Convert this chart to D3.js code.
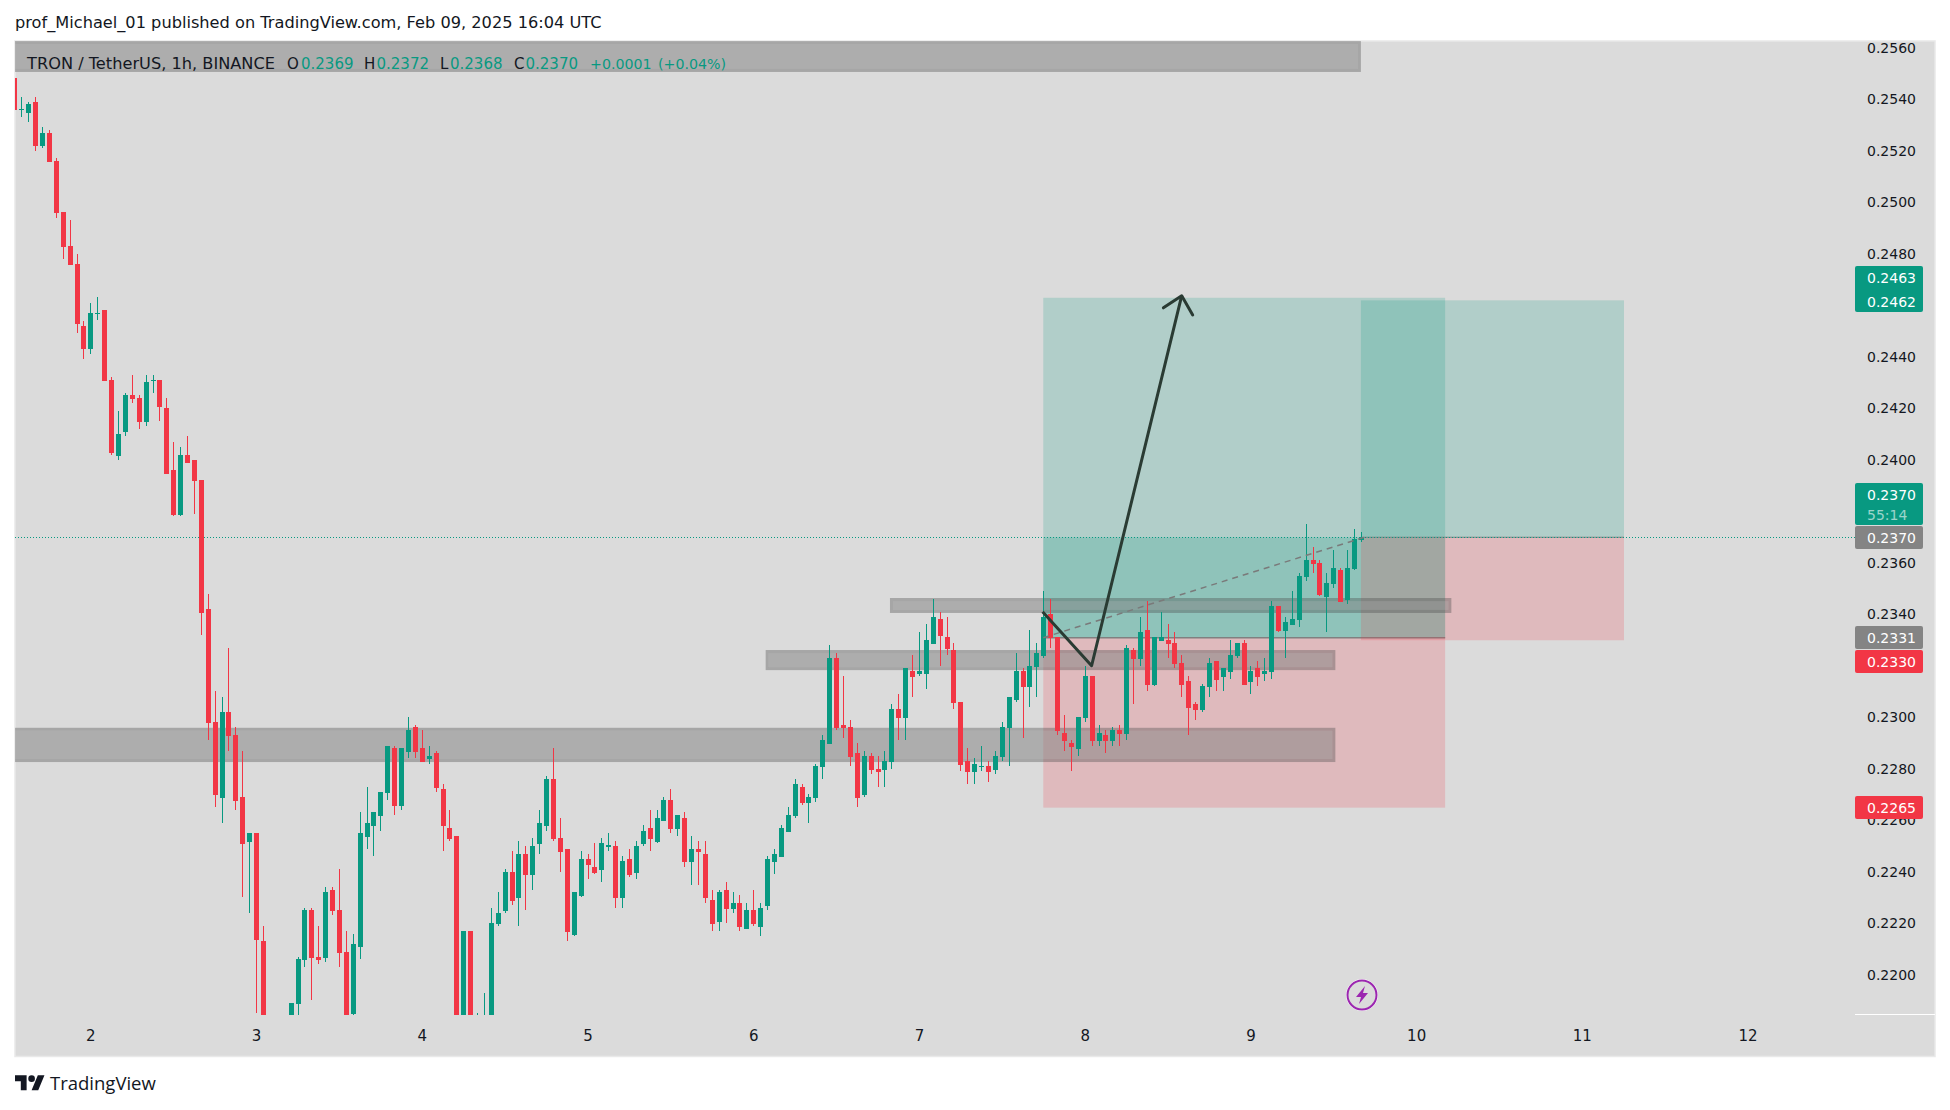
<!DOCTYPE html>
<html lang="en">
	<head>
		<meta charset="utf-8">
		<title>TRON / TetherUS 1h</title>
		<script type="text/javascript" src="https://cdnjs.cloudflare.com/ajax/libs/d3/7.8.5/d3.min.js"></script>
		<style type="text/css">
			html, body { margin: 0; padding: 0; background: #ffffff; }
			svg { display: block; }
			text { font-family: "DejaVu Sans", sans-serif; fill: #131722; }
			.axis path { display: none; }
			.axis text { font-family: "DejaVu Sans", sans-serif; font-size: 14px; fill: #131722; }
			.days text { font-size: 15px; }
		</style>
	</head>
	<body>
		<script type="text/javascript">
			//Hourly candles, one entry per bar
			var opens = [
				0.25483,0.25358,0.25348,0.25390,0.25219,0.25270,0.25161,0.24963,0.24831,0.24761,
				0.24520,0.24431,0.24567,0.24583,0.24311,0.24016,0.24109,0.24252,0.24241,0.24148,
				0.24307,0.24311,0.24202,0.23961,0.23786,0.24019,0.24000,0.23922,0.23421,0.22982,
				0.22687,0.23021,0.22932,0.22691,0.22516,0.22551,0.22132,0.21747,0.21700,0.21730,
				0.21780,0.21887,0.22058,0.22252,0.22070,0.22066,0.22330,0.22252,0.22089,0.21848,
				0.22109,0.22536,0.22579,0.22617,0.22707,0.22882,0.22656,0.22866,0.22963,0.22882,
				0.22839,0.22862,0.22722,0.22571,0.22540,0.21806,0.22171,0.21760,0.21790,0.21820,
				0.22198,0.22249,0.22400,0.22299,0.22470,0.22388,0.22509,0.22579,0.22761,0.22532,
				0.22489,0.22155,0.22307,0.22450,0.22419,0.22408,0.22497,0.22501,0.22299,0.22450,
				0.22396,0.22509,0.22571,0.22516,0.22598,0.22680,0.22567,0.22610,0.22439,0.22489,
				0.22470,0.22291,0.22206,0.22330,0.22256,0.22280,0.22179,0.22252,0.22186,0.22268,
				0.22439,0.22458,0.22555,0.22617,0.22730,0.22668,0.22687,0.22808,0.22897,0.23231,
				0.22971,0.22963,0.22862,0.22699,0.22850,0.22800,0.22796,0.22827,0.23033,0.22998,
				0.23181,0.23169,0.23169,0.23286,0.23383,0.23313,0.23262,0.23060,0.22831,0.22788,
				0.22808,0.22812,0.22796,0.22846,0.22959,0.23068,0.23181,0.23118,0.23196,0.23239,
				0.23402,0.23313,0.22940,0.22901,0.22878,0.22998,0.23161,0.22909,0.22932,0.22909,
				0.22951,0.22936,0.23262,0.23227,0.23340,0.23126,0.23297,0.23301,0.23289,0.23212,
				0.23142,0.23052,0.23029,0.23118,0.23219,0.23157,0.23177,0.23239,0.23289,0.23138,
				0.23192,0.23169,0.23177,0.23433,0.23336,0.23359,0.23379,0.23546,0.23612,0.23600,
				0.23468,0.23518,0.23573,0.23456,0.23577,0.23690
			];
			var highs = [
				0.25483,0.25410,0.25390,0.25410,0.25293,0.25282,0.25173,0.24963,0.24932,0.24800,
				0.24540,0.24610,0.24633,0.24583,0.24322,0.24190,0.24260,0.24330,0.24252,0.24330,
				0.24330,0.24311,0.24241,0.24070,0.24050,0.24093,0.24000,0.23922,0.23480,0.23103,
				0.23080,0.23270,0.22963,0.22870,0.22551,0.22551,0.22190,0.21790,0.21760,0.21800,
				0.21891,0.22070,0.22260,0.22260,0.22190,0.22342,0.22342,0.22412,0.22171,0.22159,
				0.22633,0.22730,0.22633,0.22711,0.22889,0.22889,0.22882,0.23002,0.22971,0.22951,
				0.22889,0.22870,0.22742,0.22641,0.22540,0.22171,0.22171,0.21852,0.21930,0.22260,
				0.22322,0.22412,0.22482,0.22520,0.22501,0.22532,0.22641,0.22773,0.22882,0.22610,
				0.22489,0.22322,0.22482,0.22470,0.22513,0.22532,0.22551,0.22520,0.22462,0.22489,
				0.22520,0.22583,0.22641,0.22641,0.22691,0.22722,0.22621,0.22633,0.22540,0.22520,
				0.22520,0.22330,0.22330,0.22361,0.22322,0.22311,0.22280,0.22330,0.22280,0.22462,
				0.22489,0.22583,0.22652,0.22761,0.22742,0.22703,0.22819,0.22932,0.23281,0.23251,
				0.23161,0.22990,0.22901,0.22870,0.22862,0.22850,0.22870,0.23052,0.23091,0.23192,
				0.23243,0.23332,0.23363,0.23460,0.23410,0.23390,0.23289,0.23060,0.22882,0.22843,
				0.22889,0.22831,0.22870,0.22982,0.23080,0.23251,0.23192,0.23340,0.23289,0.23491,
				0.23460,0.23313,0.23010,0.22912,0.23002,0.23200,0.23161,0.22971,0.22951,0.22963,
				0.22971,0.23281,0.23270,0.23390,0.23453,0.23313,0.23410,0.23363,0.23332,0.23243,
				0.23161,0.23060,0.23130,0.23231,0.23219,0.23192,0.23301,0.23289,0.23301,0.23200,
				0.23219,0.23231,0.23453,0.23433,0.23390,0.23491,0.23561,0.23751,0.23662,0.23612,
				0.23561,0.23650,0.23580,0.23650,0.23732,0.23720
			];
			var lows = [
				0.25359,0.25332,0.25313,0.25200,0.25212,0.25157,0.24940,0.24781,0.24757,0.24493,
				0.24392,0.24412,0.24544,0.24307,0.24019,0.24000,0.24093,0.24221,0.24120,0.24132,
				0.24260,0.24151,0.23946,0.23783,0.23783,0.23988,0.23790,0.23320,0.22912,0.22652,
				0.22590,0.22870,0.22641,0.22303,0.22241,0.21852,0.21720,0.21680,0.21650,0.21690,
				0.21760,0.21825,0.22031,0.21903,0.22043,0.22050,0.22233,0.22031,0.21790,0.21841,
				0.22062,0.22489,0.22462,0.22559,0.22680,0.22621,0.22641,0.22843,0.22843,0.22827,
				0.22819,0.22711,0.22482,0.22520,0.21780,0.21780,0.21760,0.21740,0.21760,0.21790,
				0.22190,0.22241,0.22272,0.22190,0.22252,0.22330,0.22470,0.22559,0.22520,0.22400,
				0.22132,0.22151,0.22303,0.22373,0.22392,0.22361,0.22482,0.22260,0.22260,0.22381,
				0.22373,0.22501,0.22482,0.22513,0.22598,0.22551,0.22540,0.22419,0.22350,0.22350,
				0.22280,0.22171,0.22171,0.22202,0.22241,0.22171,0.22179,0.22190,0.22151,0.22252,
				0.22392,0.22458,0.22555,0.22610,0.22660,0.22590,0.22672,0.22761,0.22897,0.22951,
				0.22920,0.22812,0.22652,0.22691,0.22781,0.22730,0.22730,0.22800,0.22912,0.22912,
				0.23080,0.23161,0.23111,0.23286,0.23200,0.23243,0.23033,0.22792,0.22742,0.22742,
				0.22792,0.22750,0.22781,0.22831,0.22812,0.23060,0.22920,0.23041,0.23080,0.23231,
				0.23270,0.22932,0.22870,0.22792,0.22850,0.22982,0.22889,0.22889,0.22862,0.22889,
				0.22889,0.22912,0.23052,0.23200,0.23103,0.23122,0.23297,0.23231,0.23192,0.23080,
				0.22932,0.22990,0.23021,0.23080,0.23103,0.23103,0.23149,0.23231,0.23126,0.23091,
				0.23122,0.23142,0.23149,0.23332,0.23231,0.23359,0.23352,0.23530,0.23561,0.23472,
				0.23332,0.23503,0.23449,0.23441,0.23573,0.23680
			];
			var closes = [
				0.25359,0.25363,0.25383,0.25219,0.25270,0.25157,0.24959,0.24827,0.24757,0.24528,
				0.24431,0.24571,0.24571,0.24307,0.24027,0.24101,0.24252,0.24237,0.24148,0.24303,
				0.24311,0.24206,0.23946,0.23786,0.24019,0.23988,0.23918,0.23406,0.22979,0.22699,
				0.23021,0.22928,0.22676,0.22509,0.22551,0.22136,0.21747,0.21700,0.21730,0.21780,
				0.21891,0.22062,0.22252,0.22066,0.22058,0.22322,0.22249,0.22085,0.21806,0.22120,
				0.22551,0.22590,0.22633,0.22711,0.22889,0.22656,0.22882,0.22951,0.22866,0.22827,
				0.22850,0.22726,0.22579,0.22528,0.21806,0.22171,0.21790,0.21800,0.21830,0.22202,
				0.22241,0.22400,0.22287,0.22470,0.22388,0.22501,0.22590,0.22761,0.22528,0.22478,
				0.22167,0.22322,0.22450,0.22427,0.22396,0.22513,0.22505,0.22299,0.22443,0.22388,
				0.22501,0.22559,0.22528,0.22610,0.22680,0.22567,0.22621,0.22439,0.22489,0.22478,
				0.22299,0.22198,0.22322,0.22256,0.22280,0.22186,0.22252,0.22198,0.22260,0.22450,
				0.22470,0.22571,0.22621,0.22742,0.22668,0.22691,0.22812,0.22912,0.23231,0.22959,
				0.22959,0.22846,0.22687,0.22850,0.22796,0.22788,0.22831,0.23033,0.22998,0.23192,
				0.23157,0.23181,0.23301,0.23390,0.23317,0.23266,0.23056,0.22816,0.22788,0.22819,
				0.22812,0.22788,0.22850,0.22963,0.23080,0.23181,0.23118,0.23200,0.23251,0.23390,
				0.23309,0.22948,0.22909,0.22885,0.23002,0.23161,0.22909,0.22940,0.22909,0.22951,
				0.22936,0.23270,0.23227,0.23332,0.23126,0.23313,0.23313,0.23286,0.23208,0.23126,
				0.23037,0.23029,0.23122,0.23212,0.23146,0.23192,0.23243,0.23289,0.23126,0.23181,
				0.23157,0.23181,0.23433,0.23336,0.23371,0.23383,0.23550,0.23612,0.23596,0.23476,
				0.23522,0.23580,0.23449,0.23580,0.23693,0.23700
			];

			//Axis ticks (0.2460, 0.2380 and 0.2320 sit behind the price labels)
			var priceTicks = [0.2560,0.2540,0.2520,0.2500,0.2480,0.2440,0.2420,0.2400,0.2360,0.2340,0.2300,0.2280,0.2260,0.2240,0.2220,0.2200];
			var dayBars = [11,35,59,83,107,131,155,179,203,227,251];
			var dayLabels = ["2","3","4","5","6","7","8","9","10","11","12"];

			//Grey zones, bar range and price range
			var zoneFrom = [-3,108.8,126.8,-3];
			var zoneTo = [195,191.3,208.1,191.3];
			var zoneHigh = [0.25627,0.23262,0.23464,0.2296];
			var zoneLow = [0.25507,0.23184,0.23406,0.22827];

			//Long position tools
			var toolFrom = [149,195];
			var toolTo = [207.2,233.1];
			var toolTarget = [0.2463,0.2462];
			var toolEntry = [0.2331,0.2370];
			var toolStop = [0.2265,0.2330];

			//Hand drawn arrow
			var arrowBars = [148.9,156,169.05];
			var arrowPrices = [0.23411,0.23201,0.24638];
			var headBars = [166.4,169.05,170.64];
			var headPrices = [0.24591,0.24638,0.24563];

			//Legend line
			var legendParts = ["TRON / TetherUS, 1h, BINANCE","O","0.2369","H","0.2372","L","0.2368","C","0.2370","+0.0001","(+0.04%)"];

			var w = 1950;
			var h = 1110;
			var teal = "#089981";
			var red = "#f23645";
			var bg = "#dbdbdb";

			var xScale = d3.scaleLinear().domain([0,195]).range([14.4,1360.9]);
			var yScale = d3.scaleLinear().domain([0.2560,0.2200]).range([48,975]);

			var svg = d3.select("body")
						.append("svg")
						.attr("width", w)
						.attr("height", h);

			svg.append("defs").append("clipPath")
				.attr("id", "pane")
				.append("rect")
				.attr("x", 15).attr("y", 41)
				.attr("width", 1840).attr("height", 974);

			//Frame
			svg.append("rect")
				.attr("x", 15).attr("y", 41)
				.attr("width", 1920).attr("height", 1015.5)
				.attr("fill", bg)
				.attr("stroke", "#e9e9e9")
				.attr("stroke-width", 1.5);

			svg.append("text")
				.attr("x", 15).attr("y", 28)
				.attr("font-size", "16.2px")
				.text("prof_Michael_01 published on TradingView.com, Feb 09, 2025 16:04 UTC");

			var pane = svg.append("g").attr("clip-path", "url(#pane)");

			//Position tools
			var lastClose = closes[closes.length - 1];
			var tools = pane.selectAll("g.tool")
				.data(d3.range(toolFrom.length))
				.enter()
				.append("g")
				.attr("class", "tool");
			function toolBox(sel, hi, lo, color) {
				sel.append("rect")
					.attr("x", function(d) { return xScale(toolFrom[d]); })
					.attr("width", function(d) { return xScale(toolTo[d]) - xScale(toolFrom[d]); })
					.attr("y", function(d) { return yScale(hi(d)); })
					.attr("height", function(d) { return yScale(lo(d)) - yScale(hi(d)); })
					.attr("fill", color)
					.attr("fill-opacity", 0.2);
			}
			toolBox(tools, function(d) { return toolTarget[d]; }, function(d) { return toolEntry[d]; }, teal);
			toolBox(tools, function(d) { return toolEntry[d]; }, function(d) { return toolStop[d]; }, red);
			//Running profit between entry and last close
			toolBox(tools, function(d) { return lastClose; }, function(d) { return toolEntry[d]; }, teal);
			tools.append("line")
				.attr("x1", function(d) { return xScale(toolFrom[d]); })
				.attr("x2", function(d) { return xScale(toolTo[d]); })
				.attr("y1", function(d) { return yScale(toolEntry[d]); })
				.attr("y2", function(d) { return yScale(toolEntry[d]); })
				.attr("stroke", "#808080")
				.attr("stroke-width", function(d) { return d == 0 ? 1.5 : 1; });

			//Grey zones
			var zoneInset = 1.5;
			var zones = pane.selectAll("g.zone")
				.data(d3.range(zoneHigh.length))
				.enter()
				.append("g")
				.attr("class", "zone");
			zones.append("rect")
				.attr("x", function(d) { return xScale(zoneFrom[d]) + 3; })
				.attr("width", function(d) { return xScale(zoneTo[d]) - xScale(zoneFrom[d]) - 6; })
				.attr("y", function(d) { return yScale(zoneHigh[d]) + 3; })
				.attr("height", function(d) { return yScale(zoneLow[d]) - yScale(zoneHigh[d]) - 6; })
				.attr("fill", "#808080")
				.attr("fill-opacity", 0.5);
			zones.append("rect")
				.attr("x", function(d) { return xScale(zoneFrom[d]) + zoneInset; })
				.attr("width", function(d) { return xScale(zoneTo[d]) - xScale(zoneFrom[d]) - 2 * zoneInset; })
				.attr("y", function(d) { return yScale(zoneHigh[d]) + zoneInset; })
				.attr("height", function(d) { return yScale(zoneLow[d]) - yScale(zoneHigh[d]) - 2 * zoneInset; })
				.attr("fill", "none")
				.attr("stroke", "#505050")
				.attr("stroke-opacity", 0.38)
				.attr("stroke-width", 3);

			//Last price line
			pane.append("line")
				.attr("x1", 15).attr("x2", 1855)
				.attr("y1", yScale(lastClose)).attr("y2", yScale(lastClose))
				.attr("stroke", teal)
				.attr("stroke-dasharray", "1,2")
				.attr("shape-rendering", "crispEdges");

			//Candles
			var candles = pane.selectAll("g.candle")
				.data(d3.range(opens.length))
				.enter()
				.append("g")
				.attr("class", "candle")
				.attr("fill", function(d) { return closes[d] >= opens[d] ? teal : red; })
				.attr("shape-rendering", "crispEdges");
			candles.append("rect")
				.attr("x", function(d) { return Math.round(xScale(d)) - 0.5; })
				.attr("width", 1)
				.attr("y", function(d) { return yScale(highs[d]); })
				.attr("height", function(d) { return yScale(lows[d]) - yScale(highs[d]); });
			candles.append("rect")
				.attr("x", function(d) { return Math.round(xScale(d)) - 2.5; })
				.attr("width", 5)
				.attr("y", function(d) { return yScale(Math.max(opens[d], closes[d])); })
				.attr("height", function(d) { return Math.max(1, Math.abs(yScale(opens[d]) - yScale(closes[d]))); });

			//Dashed line from entry to last bar
			pane.append("line")
				.attr("x1", xScale(toolFrom[0])).attr("y1", yScale(toolEntry[0]))
				.attr("x2", xScale(195.5)).attr("y2", yScale(lastClose))
				.attr("stroke", "#7a7a7a")
				.attr("stroke-width", 1.5)
				.attr("stroke-dasharray", "6,5");

			//Arrow
			var arrowLine = d3.line()
				.x(function(d) { return xScale(d[0]); })
				.y(function(d) { return yScale(d[1]); });
			pane.append("path")
				.attr("d", arrowLine(d3.zip(arrowBars, arrowPrices)))
				.attr("fill", "none")
				.attr("stroke", "#2a3b33")
				.attr("stroke-width", 3)
				.attr("stroke-linejoin", "round");
			pane.append("path")
				.attr("d", arrowLine(d3.zip(headBars, headPrices)))
				.attr("fill", "none")
				.attr("stroke", "#2a3b33")
				.attr("stroke-width", 3)
				.attr("stroke-linecap", "round")
				.attr("stroke-linejoin", "round");

			//Legend
			var legendX = [27,287,301,364,376.5,440,450,514,525.5,590,658];
			svg.selectAll("text.legend")
				.data(legendParts)
				.enter()
				.append("text")
				.attr("class", "legend")
				.attr("x", function(d, i) { return legendX[i]; })
				.attr("y", 69)
				.attr("font-size", function(d, i) { return i == 0 ? "16.2px" : (i > 8 ? "14.2px" : "15px"); })
				.style("fill", function(d, i) { return (i == 0 || i == 1 || i == 3 || i == 5 || i == 7) ? "#131722" : teal; })
				.text(function(d) { return d; });

			//Axes
			var yAxis = d3.axisRight(yScale)
				.tickValues(priceTicks)
				.tickSize(0)
				.tickPadding(12)
				.tickFormat(d3.format(".4f"));
			svg.append("g")
				.attr("class", "axis")
				.attr("transform", "translate(1855,0)")
				.call(yAxis);

			var xAxis = d3.axisBottom(xScale)
				.tickValues(dayBars)
				.tickSize(0)
				.tickPadding(15)
				.tickFormat(function(d, i) { return dayLabels[i]; });
			svg.append("g")
				.attr("class", "axis days")
				.attr("transform", "translate(0,1015)")
				.call(xAxis);

			svg.append("line")
				.attr("x1", 1855).attr("x2", 1935)
				.attr("y1", 1014.5).attr("y2", 1014.5)
				.attr("stroke", "#ffffff");

			//Price labels on the scale
			var boxTop = [266,483,526,626,650,796];
			var boxBottom = [312,525,549,649,673,819];
			var boxColor = [teal,teal,"#848484","#848484",red,red];
			var labelText = ["0.2463","0.2462","0.2370","55:14","0.2370","0.2331","0.2330","0.2265"];
			var labelY = [278,302,495,515,538,638,662,808];
			var labelOpacity = [1,1,1,0.6,1,1,1,1];
			svg.selectAll("rect.box")
				.data(boxTop)
				.enter()
				.append("rect")
				.attr("class", "box")
				.attr("x", 1855)
				.attr("width", 68)
				.attr("y", function(d) { return d; })
				.attr("height", function(d, i) { return boxBottom[i] - d; })
				.attr("rx", 2)
				.attr("fill", function(d, i) { return boxColor[i]; });
			svg.selectAll("text.boxlabel")
				.data(labelText)
				.enter()
				.append("text")
				.attr("class", "boxlabel")
				.attr("x", 1867)
				.attr("y", function(d, i) { return labelY[i]; })
				.attr("dy", "0.36em")
				.attr("font-size", "14px")
				.style("fill", "#ffffff")
				.style("fill-opacity", function(d, i) { return labelOpacity[i]; })
				.text(function(d) { return d; });

			//Lightning badge
			var badge = svg.append("g").attr("transform", "translate(1362,995)");
			badge.append("circle").attr("r", 16).attr("fill", "#ffffff");
			badge.append("circle").attr("r", 14.5).attr("fill", bg).attr("stroke", "#9c27b0").attr("stroke-width", 2);
			badge.append("path").attr("d", "M3,-9 L-6,2 H-1 L-3,9 L6,-2 H1 Z").attr("fill", "#9c27b0");

			//Logo
			var logo = svg.append("g").attr("transform", "translate(15,1072) scale(0.83)").attr("fill", "#131722");
			logo.append("path").attr("d", "M14 22H7V11H0V4h14v18zM28 22h-8l7.5-18h8L28 22z");
			logo.append("circle").attr("cx", 20).attr("cy", 8).attr("r", 4);
			svg.append("text")
				.attr("x", 50).attr("y", 1090)
				.attr("font-size", "18.5px")
				.style("font-family", "'Open Sans', sans-serif")
				.text("TradingView");
		</script>
	</body>
</html>
